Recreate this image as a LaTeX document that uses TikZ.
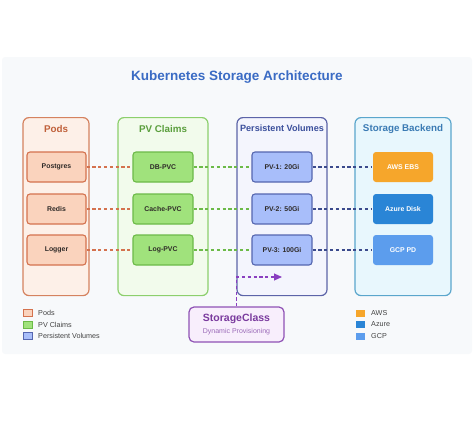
\documentclass[tikz,border=0pt]{standalone}
\usepackage{fontspec}
\setmainfont{Liberation Sans}
\usetikzlibrary{arrows.meta}
\definecolor{bg}{HTML}{F7F9FB}
\definecolor{title}{HTML}{3A6BC4}
\definecolor{podcol}{HTML}{FDF0E8}\definecolor{podbrd}{HTML}{D5825F}\definecolor{podhd}{HTML}{C0603A}
\definecolor{podin}{HTML}{FAD3BD}\definecolor{podinb}{HTML}{D4724E}
\definecolor{pvccol}{HTML}{F2FBEC}\definecolor{pvcbrd}{HTML}{8CCF6C}\definecolor{pvchd}{HTML}{5A9E3C}
\definecolor{pvcin}{HTML}{A0E27C}\definecolor{pvcinb}{HTML}{6CBA48}
\definecolor{pvcol}{HTML}{F4F5FD}\definecolor{pvbrd}{HTML}{5C64A8}\definecolor{pvhd}{HTML}{3B4F9C}
\definecolor{pvin}{HTML}{A8BEFA}\definecolor{pvinb}{HTML}{5566B0}
\definecolor{becol}{HTML}{E8F7FD}\definecolor{bebrd}{HTML}{5AA6CC}\definecolor{behd}{HTML}{3B7BB4}
\definecolor{aws}{HTML}{F6A62B}\definecolor{azure}{HTML}{2A85D6}\definecolor{gcp}{HTML}{5C9DED}
\definecolor{dkblue}{HTML}{3B4A8C}
\definecolor{scfill}{HTML}{F8EEFC}\definecolor{scbrd}{HTML}{8F52B5}\definecolor{sctxt}{HTML}{7A3A9E}\definecolor{scsub}{HTML}{9B6AB8}
\definecolor{arr}{HTML}{8A3FC0}
\definecolor{txt}{HTML}{2E2A28}
\definecolor{legtxt}{HTML}{444444}
\begin{document}
\begin{tikzpicture}[x=1pt,y=-1pt,
  colbox/.style={draw, line width=1.2pt, rounded corners=6pt, minimum height=178pt, anchor=north, inner sep=0pt},
  colhead/.style={font=\fontsize{9.8}{11}\selectfont\bfseries},
  inbox/.style={draw, line width=1.1pt, rounded corners=3pt, minimum height=30pt, minimum width=60pt, inner sep=0pt, font=\fontsize{6.9}{8}\selectfont\bfseries, text=txt},
  bebox/.style={inbox, draw=none, text=white},
  link/.style={line width=1.1pt, dash pattern=on 3.2pt off 2.6pt},
  legsq/.style={draw, line width=0.8pt, minimum width=9pt, minimum height=7pt, inner sep=0pt},
  legsqf/.style={minimum width=9pt, minimum height=7pt, inner sep=0pt},
  legtext/.style={anchor=west, font=\fontsize{7.2}{8}\selectfont, text=legtxt, inner sep=0pt}
]
\useasboundingbox (0,0) rectangle (474,429);
\fill[bg, rounded corners=3pt] (2,57) rectangle (472,354);
\node[font=\fontsize{13.5}{15}\selectfont\bfseries, text=title] (ttl) at (237,77) {Kubernetes Storage Architecture};

% columns
\node[colbox, fill=podcol, draw=podbrd, minimum width=66pt] (cpod) at (56,117) {};
\node[colbox, fill=pvccol, draw=pvcbrd, minimum width=90pt] (cpvc) at (163,117) {};
\node[colbox, fill=pvcol, draw=pvbrd, minimum width=90pt] (cpv) at (282,117) {};
\node[colbox, fill=becol, draw=bebrd, minimum width=96pt] (cbe) at (403,117) {};

\node[colhead, text=podhd] (hpod) at (56,128.5) {Pods};
\node[colhead, text=pvchd] (hpvc) at (163,128.5) {PV Claims};
\node[colhead, text=pvhd, font=\fontsize{9.1}{11}\selectfont\bfseries] (hpv) at (282,128.5) {Persistent Volumes};
\node[colhead, text=behd] (hbe) at (403,128.5) {Storage Backend};

% inner nodes
\foreach \n/\t/\y in {p1/Postgres/167, p2/Redis/209, p3/Logger/250}
  \node[inbox, fill=podin, draw=podinb, minimum width=59pt] (\n) at (56.5,\y) {\t};
\foreach \n/\t/\y in {c1/DB-PVC/167, c2/Cache-PVC/209, c3/Log-PVC/250}
  \node[inbox, fill=pvcin, draw=pvcinb] (\n) at (163,\y) {\t};
\foreach \n/\t/\y in {v1/PV-1: 20Gi/167, v2/PV-2: 50Gi/209, v3/PV-3: 100Gi/250}
  \node[inbox, fill=pvin, draw=pvinb] (\n) at (282,\y) {\t};
\node[bebox, fill=aws] (b1) at (403,167) {AWS EBS};
\node[bebox, fill=azure] (b2) at (403,209) {Azure Disk};
\node[bebox, fill=gcp] (b3) at (403,250) {GCP PD};

% connectors
\foreach \i in {1,2,3}{
  \draw[link, podinb] (p\i) -- (c\i);
  \draw[link, pvcinb] (c\i) -- (v\i);
  \draw[link, dkblue] (v\i) -- (b\i);
}

% storage class
\node[draw=scbrd, fill=scfill, line width=1.2pt, rounded corners=5pt, minimum width=95pt, minimum height=35pt, inner sep=0pt] (sc) at (236.5,324.5) {};
\node[font=\fontsize{10.5}{12}\selectfont\bfseries, text=sctxt] (sct) at (236.5,319) {StorageClass};
\node[font=\fontsize{7}{8}\selectfont, text=scsub] (scs) at (236.5,331.5) {Dynamic Provisioning};
\coordinate (ae) at (282,277);
\draw[link, arr, -{Triangle[length=8pt,width=7pt]}] (sc.north) |- (ae);

% legend left
\node[legsq, fill=podin, draw=podinb] (l1) at (27.5,313) {};
\node[legsq, fill=pvcin, draw=pvcinb] (l2) at (27.5,324.5) {};
\node[legsq, fill=pvin, draw=pvinb] (l3) at (27.5,336) {};
\node[legtext] (lt1) at (38,313) {Pods};
\node[legtext] (lt2) at (38,324.5) {PV Claims};
\node[legtext] (lt3) at (38,336) {Persistent Volumes};

% legend right
\node[legsqf, fill=aws] (r1) at (360,313) {};
\node[legsqf, fill=azure] (r2) at (360,324.5) {};
\node[legsqf, fill=gcp] (r3) at (360,336) {};
\node[legtext] (rt1) at (371,313) {AWS};
\node[legtext] (rt2) at (371,324.5) {Azure};
\node[legtext] (rt3) at (371,336) {GCP};
\end{tikzpicture}
\end{document}
